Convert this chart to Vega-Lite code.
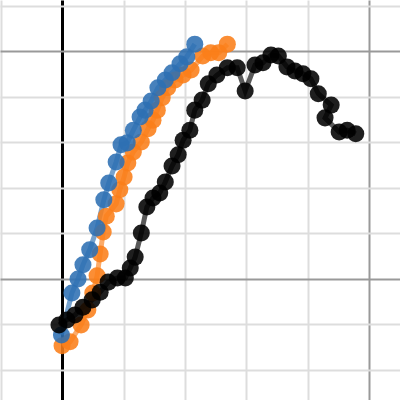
{
  "$schema": "https://vega.github.io/schema/vega-lite/v6.json",
  "autosize": {"type": "fit", "contains": "padding"},
  "width": 400,
  "height": 400,
  "padding": 0,
  "background": "white",
  "view": {"fill": "white", "stroke": null},
  "config": {
    "axis": {"labels": false, "ticks": false, "domain": false, "title": null, "grid": true, "gridOpacity": 1}
  },
  "data": {
    "values": [
      {"s": "orange", "i": 1, "x": 0.00, "y": 3.53},
      {"s": "orange", "i": 2, "x": 0.13, "y": 3.62},
      {"s": "orange", "i": 3, "x": 0.31, "y": 3.99},
      {"s": "orange", "i": 4, "x": 0.42, "y": 4.32},
      {"s": "orange", "i": 5, "x": 0.50, "y": 4.69},
      {"s": "orange", "i": 6, "x": 0.57, "y": 5.07},
      {"s": "orange", "i": 7, "x": 0.62, "y": 5.55},
      {"s": "orange", "i": 8, "x": 0.67, "y": 6.03},
      {"s": "orange", "i": 9, "x": 0.72, "y": 6.38},
      {"s": "orange", "i": 10, "x": 0.88, "y": 6.65},
      {"s": "orange", "i": 11, "x": 0.94, "y": 6.96},
      {"s": "orange", "i": 12, "x": 1.01, "y": 7.24},
      {"s": "orange", "i": 13, "x": 1.07, "y": 7.55},
      {"s": "orange", "i": 14, "x": 1.16, "y": 7.79},
      {"s": "orange", "i": 15, "x": 1.29, "y": 8.01},
      {"s": "orange", "i": 16, "x": 1.40, "y": 8.30},
      {"s": "orange", "i": 17, "x": 1.48, "y": 8.49},
      {"s": "orange", "i": 18, "x": 1.55, "y": 8.71},
      {"s": "orange", "i": 19, "x": 1.63, "y": 8.98},
      {"s": "orange", "i": 20, "x": 1.72, "y": 9.20},
      {"s": "orange", "i": 21, "x": 1.84, "y": 9.37},
      {"s": "orange", "i": 22, "x": 1.97, "y": 9.48},
      {"s": "orange", "i": 23, "x": 2.10, "y": 9.59},
      {"s": "orange", "i": 24, "x": 2.29, "y": 9.90},
      {"s": "orange", "i": 25, "x": 2.42, "y": 9.97},
      {"s": "orange", "i": 26, "x": 2.55, "y": 9.97},
      {"s": "orange", "i": 27, "x": 2.69, "y": 10.16},
      {"s": "blue", "i": 1, "x": -0.01, "y": 3.77},
      {"s": "blue", "i": 2, "x": 0.16, "y": 4.69},
      {"s": "blue", "i": 3, "x": 0.26, "y": 5.00},
      {"s": "blue", "i": 4, "x": 0.34, "y": 5.31},
      {"s": "blue", "i": 5, "x": 0.45, "y": 5.64},
      {"s": "blue", "i": 6, "x": 0.57, "y": 6.12},
      {"s": "blue", "i": 7, "x": 0.68, "y": 6.74},
      {"s": "blue", "i": 8, "x": 0.76, "y": 7.11},
      {"s": "blue", "i": 9, "x": 0.88, "y": 7.57},
      {"s": "blue", "i": 10, "x": 0.96, "y": 7.95},
      {"s": "blue", "i": 11, "x": 1.06, "y": 7.99},
      {"s": "blue", "i": 12, "x": 1.16, "y": 8.27},
      {"s": "blue", "i": 13, "x": 1.27, "y": 8.56},
      {"s": "blue", "i": 14, "x": 1.35, "y": 8.71},
      {"s": "blue", "i": 15, "x": 1.45, "y": 8.91},
      {"s": "blue", "i": 16, "x": 1.56, "y": 9.20},
      {"s": "blue", "i": 17, "x": 1.68, "y": 9.37},
      {"s": "blue", "i": 18, "x": 1.79, "y": 9.53},
      {"s": "blue", "i": 19, "x": 1.92, "y": 9.73},
      {"s": "blue", "i": 20, "x": 2.03, "y": 9.88},
      {"s": "blue", "i": 21, "x": 2.16, "y": 10.16},
      {"s": "black", "i": 1, "x": -0.05, "y": 3.99},
      {"s": "black", "i": 2, "x": 0.08, "y": 4.10},
      {"s": "black", "i": 3, "x": 0.21, "y": 4.21},
      {"s": "black", "i": 4, "x": 0.34, "y": 4.38},
      {"s": "black", "i": 5, "x": 0.49, "y": 4.54},
      {"s": "black", "i": 6, "x": 0.62, "y": 4.71},
      {"s": "black", "i": 7, "x": 0.75, "y": 4.93},
      {"s": "black", "i": 8, "x": 0.90, "y": 5.02},
      {"s": "black", "i": 9, "x": 1.03, "y": 5.02},
      {"s": "black", "i": 10, "x": 1.11, "y": 5.24},
      {"s": "black", "i": 11, "x": 1.19, "y": 5.48},
      {"s": "black", "i": 12, "x": 1.29, "y": 6.01},
      {"s": "black", "i": 13, "x": 1.38, "y": 6.58},
      {"s": "black", "i": 14, "x": 1.48, "y": 6.78},
      {"s": "black", "i": 15, "x": 1.59, "y": 6.89},
      {"s": "black", "i": 16, "x": 1.68, "y": 7.13},
      {"s": "black", "i": 17, "x": 1.79, "y": 7.48},
      {"s": "black", "i": 18, "x": 1.89, "y": 7.73},
      {"s": "black", "i": 19, "x": 1.97, "y": 8.05},
      {"s": "black", "i": 20, "x": 2.08, "y": 8.27},
      {"s": "black", "i": 21, "x": 2.16, "y": 8.71},
      {"s": "black", "i": 22, "x": 2.28, "y": 8.93},
      {"s": "black", "i": 23, "x": 2.38, "y": 9.29},
      {"s": "black", "i": 24, "x": 2.52, "y": 9.48},
      {"s": "black", "i": 25, "x": 2.69, "y": 9.64},
      {"s": "black", "i": 26, "x": 2.85, "y": 9.64},
      {"s": "black", "i": 27, "x": 2.98, "y": 9.13},
      {"s": "black", "i": 28, "x": 3.14, "y": 9.70},
      {"s": "black", "i": 29, "x": 3.27, "y": 9.75},
      {"s": "black", "i": 30, "x": 3.40, "y": 9.92},
      {"s": "black", "i": 31, "x": 3.52, "y": 9.90},
      {"s": "black", "i": 32, "x": 3.66, "y": 9.66},
      {"s": "black", "i": 33, "x": 3.79, "y": 9.57},
      {"s": "black", "i": 34, "x": 3.92, "y": 9.51},
      {"s": "black", "i": 35, "x": 4.05, "y": 9.40},
      {"s": "black", "i": 36, "x": 4.17, "y": 9.07},
      {"s": "black", "i": 37, "x": 4.38, "y": 8.82},
      {"s": "black", "i": 38, "x": 4.28, "y": 8.54},
      {"s": "black", "i": 39, "x": 4.51, "y": 8.23},
      {"s": "black", "i": 40, "x": 4.64, "y": 8.27},
      {"s": "black", "i": 41, "x": 4.78, "y": 8.19}
    ]
  },
  "encoding": {
    "x": {
      "field": "x", "type": "quantitative",
      "scale": {"domain": [-1.01, 5.5], "nice": false, "zero": false},
      "axis": {
        "values": [-1, 0, 1, 2, 3, 4, 5],
        "gridColor": {"condition": [{"test": "datum.value === 0", "value": "#000000"}, {"test": "datum.value === 5", "value": "#999999"}], "value": "#dddddd"},
        "gridWidth": {"condition": {"test": "datum.value === 0", "value": 3}, "value": 2}
      }
    },
    "y": {
      "field": "y", "type": "quantitative",
      "scale": {"domain": [2.34, 11.13], "nice": false, "zero": false},
      "axis": {
        "values": [3, 4, 5, 6, 7, 8, 9, 10, 11],
        "gridColor": {"condition": {"test": "datum.value === 5 || datum.value === 10", "value": "#999999"}, "value": "#dddddd"},
        "gridWidth": 2
      }
    },
    "color": {
      "field": "s", "type": "nominal",
      "scale": {"domain": ["orange", "blue", "black"], "range": ["#fa7e19", "#2d70b3", "#000000"]},
      "legend": null
    }
  },
  "layer": [
    {
      "mark": {"type": "line", "strokeWidth": 5, "opacity": 0.65},
      "encoding": {"order": {"field": "i", "type": "quantitative"}}
    },
    {
      "mark": {"type": "point", "filled": true, "size": 290, "opacity": 0.88}
    }
  ]
}
